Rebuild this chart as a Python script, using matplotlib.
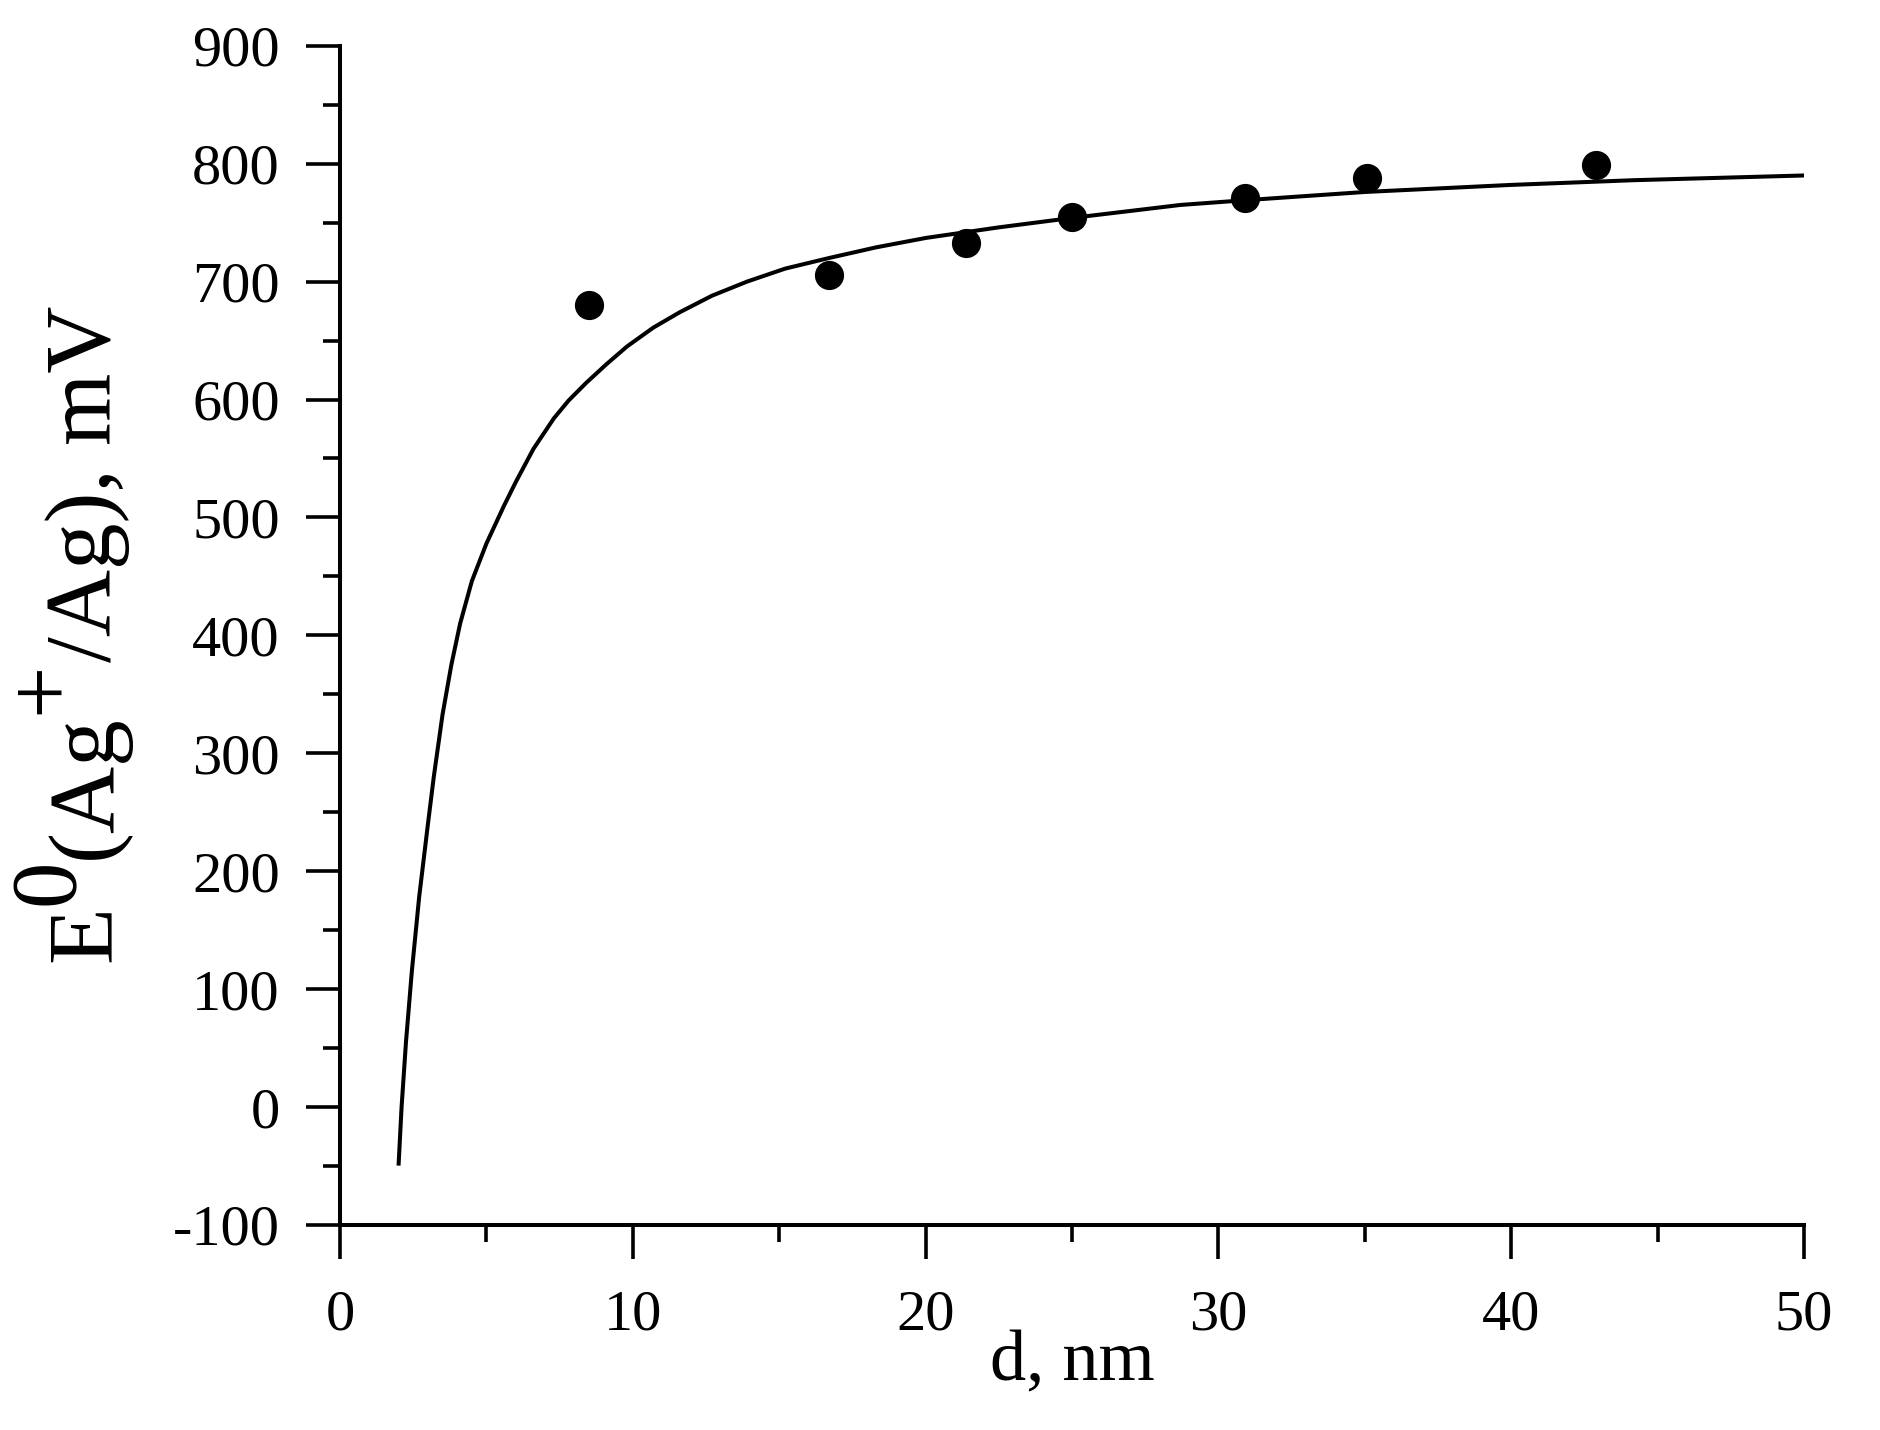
import matplotlib
matplotlib.use("Agg")
import matplotlib.pyplot as plt
from matplotlib.ticker import MultipleLocator

plt.rcParams['font.family'] = ['Liberation Serif', 'DejaVu Serif']
plt.rcParams['axes.unicode_minus'] = False

# measured points
d_exp = [8.49, 16.70, 21.37, 25.01, 30.90, 35.07, 42.88]
e_exp = [680, 706, 733, 755, 771, 788, 799]

# fitted curve
d_fit = [2.0, 2.1, 2.25, 2.45, 2.7, 3.0, 3.2, 3.5, 3.8, 4.1, 4.5, 5.0, 5.6,
         6.0, 6.6, 7.3, 7.8, 8.4, 9.1, 9.8, 10.7, 11.6, 12.7, 13.9, 15.2,
         16.7, 18.3, 20.0, 22.5, 25.0, 28.7, 30.9, 35.0, 40.0, 44.2, 50.0]
e_fit = [-48, 0, 55, 115, 178, 240, 280, 333, 375, 410, 446, 478, 510,
         530, 558, 584, 599, 614, 630, 645, 661, 674, 688, 700, 711,
         720, 729, 737, 746, 754, 765, 769, 776, 782, 786, 790]

fig = plt.figure(figsize=(18.8, 14.3), dpi=100)
ax = fig.add_axes([0.1809, 0.1434, 0.7787, 0.8246])

ax.plot(d_fit, e_fit, color='black', linewidth=2.9, zorder=2)
ax.plot(d_exp, e_exp, 'o', color='black', markersize=20, zorder=3)

ax.set_xlim(0, 50)
ax.set_ylim(-100, 900)
ax.xaxis.set_major_locator(MultipleLocator(10))
ax.xaxis.set_minor_locator(MultipleLocator(5))
ax.yaxis.set_major_locator(MultipleLocator(100))
ax.yaxis.set_minor_locator(MultipleLocator(50))

for side in ['top', 'right']:
    ax.spines[side].set_visible(False)
for side in ['left', 'bottom']:
    ax.spines[side].set_linewidth(2.9)

ax.tick_params(which='major', direction='out', length=24.5, width=2.6,
               labelsize=42)
ax.tick_params(which='minor', direction='out', length=12, width=2.6)
ax.tick_params(axis='x', which='major', pad=22)
ax.tick_params(axis='y', which='major', pad=19)

ax.set_xlabel('d, nm', fontsize=52, labelpad=-8)

# y label built from pieces so the superscripts match the original sizes
renderer = fig.canvas.get_renderer()
label_size = 67
pieces = [
    ('E', 1.0, 0),
    ('0', 1.0, 37),
    ('(Ag', 1.0, 0),
    ('+', 1.0, 43),
    ('/Ag), mV', 1.0, 0),
]
base_x = 110
pos_y = 468
for s, scale, raise_px in pieces:
    tmp = fig.text(0, 0, s, fontsize=label_size * scale)
    w = tmp.get_window_extent(renderer).width
    tmp.remove()
    fig.text(base_x - raise_px, pos_y, s, fontsize=label_size * scale,
             rotation=90, rotation_mode='anchor', ha='left', va='baseline',
             transform=None)
    pos_y += w

fig.savefig('out.png', dpi=100, facecolor='white')
